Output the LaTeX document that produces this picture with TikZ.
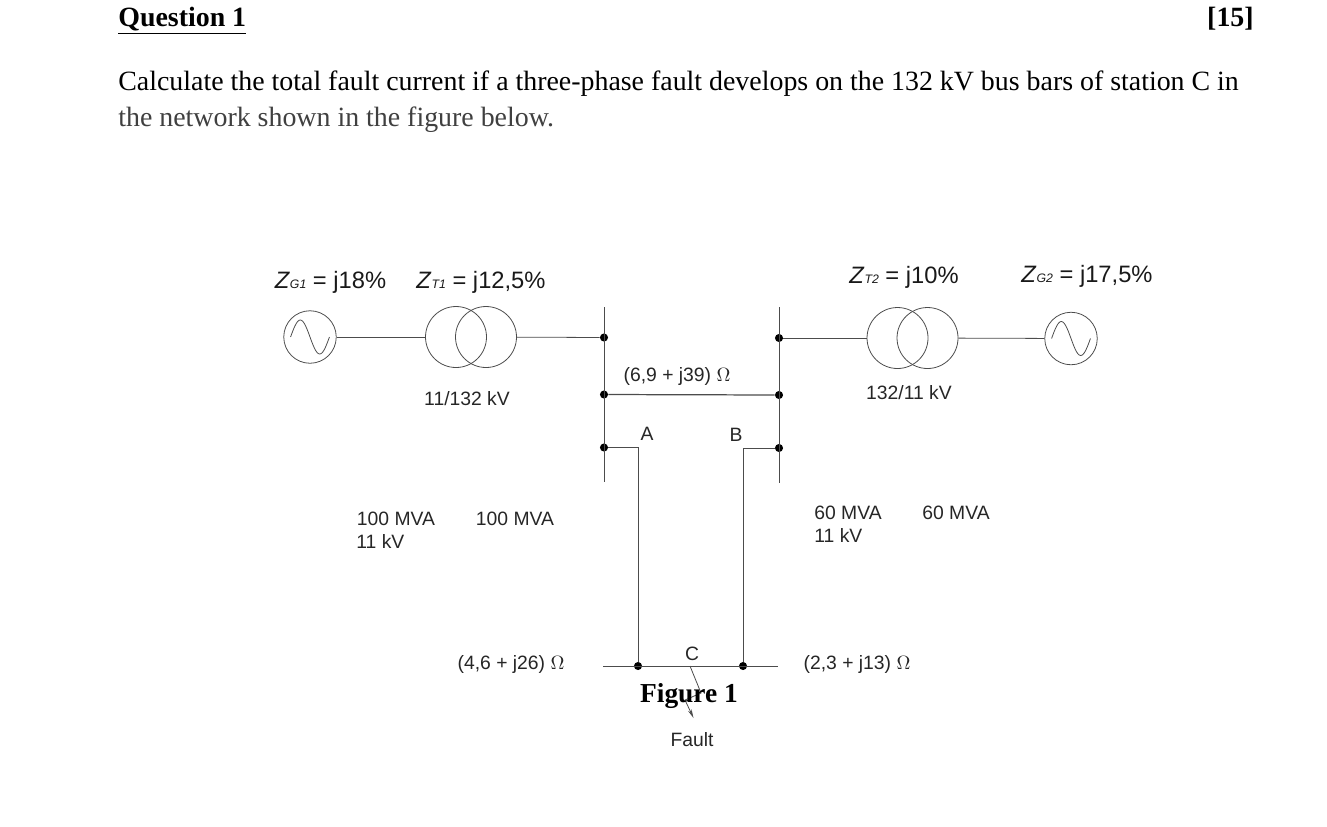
\documentclass[tikz,border=0pt]{standalone}
\usepackage{fontspec}
\setmainfont{Liberation Serif}
\newfontfamily\diagfont{Liberation Sans}
\usetikzlibrary{arrows.meta}
\definecolor{wirecol}{gray}{0.3}
\tikzset{
  wire/.style={draw=wirecol,line width=0.45pt},
  busdot/.style={circle,fill=black,inner sep=0pt,minimum size=4.6pt},
  winding/.style={circle,draw=wirecol,line width=0.45pt,inner sep=0pt,minimum size=1.22cm},
  gensource/.style={circle,draw=wirecol,line width=0.45pt,inner sep=0pt,minimum size=1.05cm},
  lab/.style={font=\diagfont\fontsize{11}{13}\selectfont,text=black!85,inner sep=0pt},
  zlab/.style={font=\diagfont\fontsize{13.5}{16}\selectfont,text=black!90,inner sep=0pt},
  body/.style={font=\fontsize{15.87}{18}\selectfont,inner sep=0pt,anchor=base west}
}
\newcommand{\zname}[2]{\textit{Z}{\fontsize{7}{8}\selectfont\textit{#1}}#2}
\begin{document}
\begin{tikzpicture}[x=0.02cm,y=-0.02cm]
  \useasboundingbox (0,0) rectangle (1327,826);
  % heading and question
  \node[body,font=\bfseries\fontsize{15.87}{18}\selectfont] (qhead) at (118,26) {\underline{Question 1}};
  \node[body,font=\bfseries\fontsize{15.87}{18}\selectfont,anchor=base east] (qmark) at (1254,26) {[15]};
  \node[body] (qline1) at (118,90) {Calculate the total fault current if a three-phase fault develops on the 132 kV bus bars of station C in};
  \node[body,text=black!75] (qline2) at (118,126) {the network shown in the figure below.};
  % machines
  \draw
    (310,337) node[gensource] (G1){}
    (456,337) node[winding] (T1a){}
    (486,337) node[winding] (T1b){}
    (897.5,338) node[winding] (T2a){}
    (927.5,338) node[winding] (T2b){}
    (1071,338.5) node[gensource] (G2){};
  % sine curves
  \draw[wire,smooth] plot[domain=-180:180,samples=37] ({310+\x*0.108},{337+sin(\x)*17});
  \draw[wire,smooth] plot[domain=-180:180,samples=37] ({1071+\x*0.108},{338.5+sin(\x)*17});
  % bus bars
  \draw
    (604,307) coordinate (busAtop)
    (604,482) coordinate (busAend)
    (779,307) coordinate (busBtop)
    (779,483) coordinate (busBend)
    (603,666) coordinate (busCleft)
    (778,666) coordinate (busCright)
    (638,447.5) coordinate (feedA)
    (743,448) coordinate (feedB);
  \draw
    (604,337.5) node[busdot] (a1){}
    (604,394.5) node[busdot] (a2){}
    (604,447.5) node[busdot] (a3){}
    (779,338) node[busdot] (b1){}
    (779,395) node[busdot] (b2){}
    (779,448) node[busdot] (b3){}
    (638,666) node[busdot] (c1){}
    (743,666) node[busdot] (c2){};
  \begin{scope}[wire]
    \draw (busAtop) to (busAend);
    \draw (busBtop) to (busBend);
    \draw (busCleft) to (busCright);
    \draw (G1) to (T1a);
    \draw (T1b) to (a1);
    \draw (b1) to (T2a);
    \draw (T2b) to (G2);
    \draw[line width=0.7pt] (a2) to (b2);
    \draw (a3) to (feedA) to (c1);
    \draw (b3) to (feedB) to (c2);
  \end{scope}
  % fault
  \coordinate (faultstart) at (690,666);
  \coordinate (faultbend) at (701,693);
  \coordinate (faultback) at (685,700);
  \coordinate (faultend) at (693.5,718);
  \draw[wire,-{Stealth[length=5pt,width=2.2pt]}] (faultstart) to (faultbend) to (faultback) to (faultend);
  % labels
  \draw
    (330.5,282) node[zlab] (zg1){\zname{G1}{ = j18\%}}
    (481,282) node[zlab] (zt1){\zname{T1}{ = j12,5\%}}
    (904,277) node[zlab] (zt2){\zname{T2}{ = j10\%}}
    (1087,276) node[zlab] (zg2){\zname{G2}{ = j17,5\%}}
    (467,398.5) node[lab] (t1v){11/132 kV}
    (909,393) node[lab] (t2v){132/11 kV}
    (677,376) node[lab] (z39){(6,9 + j39) $\Omega$}
    (647,434) node[lab] (nodeA){A}
    (736,435) node[lab] (nodeB){B}
    (692,654) node[lab] (nodeC){C}
    (396,518.5) node[lab] (g1s){100 MVA}
    (515,518.5) node[lab] (t1s){100 MVA}
    (356,541) node[lab,anchor=west] (g1kv){11 kV}
    (848,513) node[lab] (g2s){60 MVA}
    (956,513) node[lab] (t2s){60 MVA}
    (814,535) node[lab,anchor=west] (g2kv){11 kV}
    (511,664) node[lab] (z26){(4,6 + j26) $\Omega$}
    (857,664) node[lab] (z13){(2,3 + j13) $\Omega$}
    (692,740) node[lab] (fname){Fault};
  \node[inner sep=0pt,font=\bfseries\fontsize{15.6}{18}\selectfont] (figcap) at (689,696) {Figure 1};
\end{tikzpicture}
\end{document}
